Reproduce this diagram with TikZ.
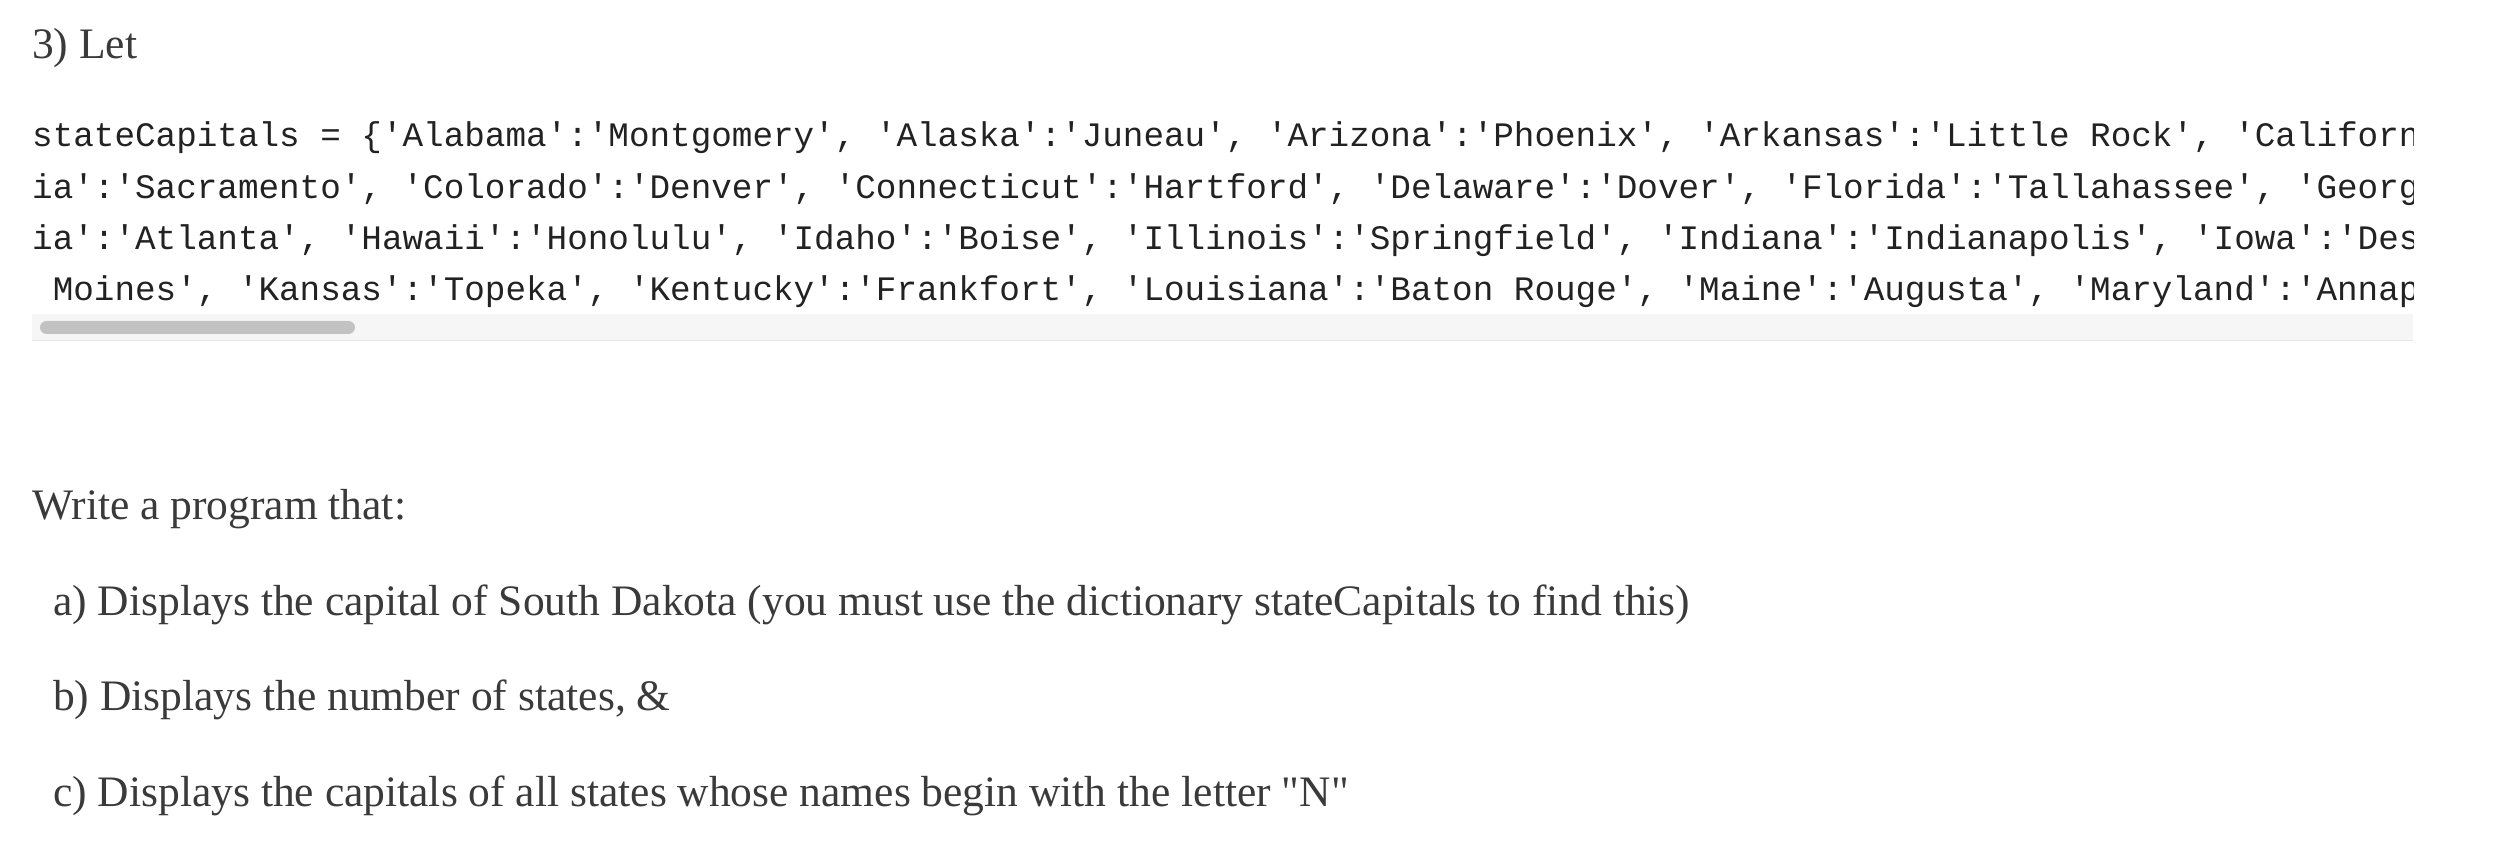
\documentclass[tikz,border=0pt]{standalone}
\usepackage{fontspec}
\setmainfont{Liberation Serif}
\setmonofont{Liberation Mono}
\definecolor{prose}{HTML}{3A3A3A}
\definecolor{code}{HTML}{222222}
\definecolor{track}{HTML}{F6F6F6}
\definecolor{thumb}{HTML}{C2C2C2}
\definecolor{rule}{HTML}{E6E6E6}
\begin{document}
\begin{tikzpicture}[x=1pt,y=1pt,
  prosetext/.style={anchor=base west,inner sep=0,text=prose,font=\fontsize{43.5}{52}\selectfont},
  codetext/.style={anchor=base west,inner sep=0,text=code,font=\ttfamily\fontsize{34.3}{42}\selectfont}]
\useasboundingbox (0,0) rectangle (2498,866);
\fill[white] (0,0) rectangle (2498,866);
\node[prosetext] (t0) at (32,807) {3) Let};
\begin{scope}
\clip (32,500) rectangle (2413,780);
\node[codetext] (c1) at (32,719) {stateCapitals = \{'Alabama':'Montgomery', 'Alaska':'Juneau', 'Arizona':'Phoenix', 'Arkansas':'Little Rock', 'Californ};
\node[codetext] (c2) at (32,667) {ia':'Sacramento', 'Colorado':'Denver', 'Connecticut':'Hartford', 'Delaware':'Dover', 'Florida':'Tallahassee', 'Georg};
\node[codetext] (c3) at (32,616) {ia':'Atlanta', 'Hawaii':'Honolulu', 'Idaho':'Boise', 'Illinois':'Springfield', 'Indiana':'Indianapolis', 'Iowa':'Des};
\node[codetext] (c4) at (32,565) {\ Moines', 'Kansas':'Topeka', 'Kentucky':'Frankfort', 'Louisiana':'Baton Rouge', 'Maine':'Augusta', 'Maryland':'Annap};
\end{scope}
\fill[track] (32,526) rectangle (2413,552);
\draw[rule,line width=1.5] (32,525.5) -- (2413,525.5);
\fill[thumb,rounded corners=6.5] (40,532) rectangle (355,545);
\node[prosetext] (w) at (32,346) {Write a program that:};
\node[prosetext] (a) at (53,250) {a) Displays the capital of South Dakota (you must use the dictionary stateCapitals to find this)};
\node[prosetext] (b) at (53,155) {b) Displays the number of states, \&};
\node[prosetext] (c) at (53,59) {c) Displays the capitals of all states whose names begin with the letter \textquotedbl N\textquotedbl};
\end{tikzpicture}
\end{document}
